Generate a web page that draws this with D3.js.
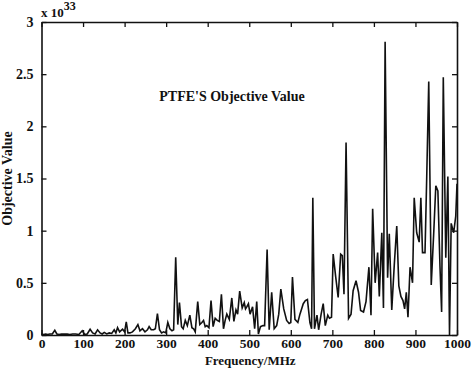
<!DOCTYPE html>
<html>
<head>
<meta charset="utf-8">
<script src="https://cdn.jsdelivr.net/npm/d3@7"></script>
<style>
  body { margin: 0; background: #fff; }
  text { font-family: "Liberation Serif", "DejaVu Serif", serif; font-weight: bold; fill: #111; }
</style>
</head>
<body>
<div id="chart"></div>
<script>
// frequency (MHz) and objective value (x 1e33)
var freq = [0,5,10,15,20,26,32,37,42,48,55,62,68,75,82,90,98,104,110,117,123,129,135,141,146,151,157,163,169,175,
  179,183,188,195,200,204,208,213,219,226,232,237,243,249,255,259,264,270,274,279,284,289,294,299,304,309,314,318,
  323,328,332,337,341,346,351,357,362,366,370,376,381,386,390,394,398,403,408,413,418,423,428,433,438,442,446,452,
  458,463,468,472,477,483,488,491,494,498,502,508,513,518,522,527,533,537,543,548,554,560,566,571,576,583,590,596,
  600,604,610,617,622,626,630,635,640,646,650,653,657,663,667,673,678,683,689,693,698,702,708,714,720,724,728,733,
  739,745,750,757,763,768,775,781,788,793,797,803,809,813,819,823,827,833,837,843,849,855,860,865,870,874,878,882,
  887,893,897,903,909,913,917,923,927,932,938,944,949,954,959,963,967,973,978,982,986,992,997,1000];
var value = [0.01,0.005,0.01,0.005,0.01,0.01,0.045,0.01,0.005,0.01,0.008,0.01,0.005,0.01,0.01,0.005,0.04,0.005,0.01,0.055,0.02,0.01,0.05,0.02,0.01,0.025,0.01,0.02,0.015,0.05,
  0.02,0.07,0.03,0.055,0.03,0.125,0.02,0.02,0.03,0.06,0.1,0.04,0.06,0.03,0.05,0.08,0.05,0.05,0.06,0.205,0.05,0.02,0.03,0.02,0.12,0.06,0.04,0.05,
  0.745,0.1,0.31,0.08,0.06,0.14,0.09,0.19,0.07,0.06,0.03,0.32,0.1,0.12,0.14,0.08,0.09,0.07,0.33,0.08,0.16,0.14,0.13,0.39,0.06,0.14,0.2,0.15,
  0.355,0.13,0.24,0.2,0.42,0.26,0.31,0.25,0.27,0.3,0.2,0.27,0.06,0.32,0.01,0.08,0.09,0.09,0.82,0.05,0.41,0.06,0.09,0.2,0.44,0.25,0.14,0.11,
  0.12,0.555,0.15,0.12,0.2,0.25,0.3,0.33,0.34,0.12,0.06,1.315,0.06,0.19,0.05,0.2,0.3,0.09,0.19,0.16,0.17,0.775,0.56,0.36,0.775,0.76,0.39,1.845,
  0.16,0.2,0.425,0.52,0.41,0.235,0.22,0.32,0.65,0.19,1.21,0.5,0.79,0.37,0.98,0.26,2.81,0.55,0.97,0.24,0.67,1.045,0.47,0.37,0.33,0.25,0.41,0.17,
  0.65,0.5,1.315,0.98,0.89,1.315,0.79,0.79,1.49,2.43,0.48,0.98,1.43,1.38,0.66,0.22,2.47,0.74,1.52,0.0,1.07,0.98,1.14,1.45];

var xTicks = [0,100,200,300,400,500,600,700,800,900,1000];
var yTicks = [0,0.5,1,1.5,2,2.5,3];
var yTickLabels = ["0","0.5","1","1.5","2","2.5","3"];

var width = 474, height = 369;
var margins = {left: 41.5, right: 17, top: 22, bottom: 34};

var svg = d3.select("#chart").append("svg")
    .attr("width", width)
    .attr("height", height);

var xScale = d3.scaleLinear().domain([0, 1000]).range([margins.left, width - margins.right]);
var yScale = d3.scaleLinear().domain([0, 3]).range([height - margins.bottom, margins.top]);

var data = freq.map(function (f, i) { return {f: f, v: value[i]}; });

// series line
svg.append("path")
    .datum(data)
    .attr("fill", "none")
    .attr("stroke", "#111")
    .attr("stroke-width", 1.6)
    .attr("stroke-linejoin", "miter")
    .attr("d", d3.line()
        .x(function (d) { return xScale(d.f); })
        .y(function (d) { return yScale(d.v); }));

// axes with inward ticks on all four sides
var axisBottomG = svg.append("g")
    .attr("transform", "translate(0," + yScale(0) + ")")
    .call(d3.axisBottom(xScale).tickValues(xTicks).tickSizeInner(-5).tickSizeOuter(0).tickPadding(3)
        .tickFormat(d3.format("d")));
var axisTopG = svg.append("g")
    .attr("transform", "translate(0," + yScale(3) + ")")
    .call(d3.axisTop(xScale).tickValues(xTicks).tickSizeInner(-5).tickSizeOuter(0).tickFormat(""));
var axisLeftG = svg.append("g")
    .attr("transform", "translate(" + xScale(0) + ",0)")
    .call(d3.axisLeft(yScale).tickValues(yTicks).tickSizeInner(-5).tickSizeOuter(0).tickPadding(8)
        .tickFormat(function (d, i) { return yTickLabels[i]; }));
var axisRightG = svg.append("g")
    .attr("transform", "translate(" + xScale(1000) + ",0)")
    .call(d3.axisRight(yScale).tickValues(yTicks).tickSizeInner(-5).tickSizeOuter(0).tickFormat(""));

[axisBottomG, axisTopG, axisLeftG, axisRightG].forEach(function (g) {
    g.select(".domain").attr("stroke", "#111").attr("stroke-width", 1.6);
    g.selectAll(".tick line").attr("stroke", "#111").attr("stroke-width", 1.3);
    g.selectAll("text").attr("font-family", null).style("font-size", "14px").attr("fill", "#111");
});
axisBottomG.selectAll(".tick text").style("font-size", "13.5px");
axisLeftG.selectAll(".tick text").attr("dy", "0.32em");

// exponent label
var expo = svg.append("text").attr("x", 41).attr("y", 17).style("font-size", "13px");
expo.append("tspan").text("x 10");
expo.append("tspan").attr("dy", -7).style("font-size", "12px").text("33");

// inside title
svg.append("text")
    .attr("x", 232).attr("y", 101)
    .attr("text-anchor", "middle")
    .style("font-size", "14px")
    .text("PTFE'S Objective Value");

// axis titles
svg.append("text")
    .attr("x", (xScale(0) + xScale(1000)) / 2 + 1).attr("y", 365)
    .attr("text-anchor", "middle")
    .style("font-size", "13px")
    .text("Frequency/MHz");

svg.append("text")
    .attr("transform", "translate(12," + yScale(1.5) + ") rotate(-90)")
    .attr("text-anchor", "middle")
    .style("font-size", "14px")
    .text("Objective Value");
</script>
</body>
</html>
